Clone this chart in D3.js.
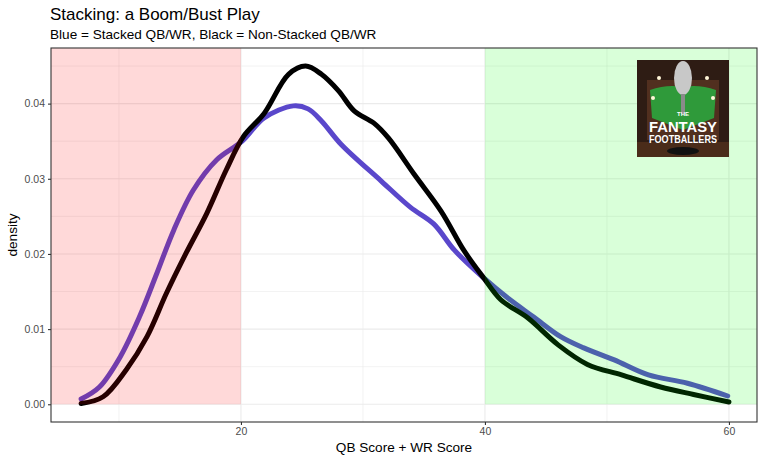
<!doctype html>
<html lang="en">
<head>
  <meta charset="UTF-8">
  <title>Stacking: a Boom/Bust Play</title>
  <script src="https://cdn.jsdelivr.net/npm/d3@7"></script>
  <style>
    body { margin: 0; background: #fff; }
    svg text { font-family: "Liberation Sans", Arial, sans-serif; }
  </style>
</head>
<body>
<div id="chart"></div>
<script>
  // density curves (x = QB score + WR score)
  var stackedX = [6.9, 8.4, 10.1, 11.7, 13.1, 14.5, 16.1, 18.0, 20.1, 21.9, 24.3, 25.5, 26.6, 28.2, 31.5, 33.9, 35.8, 37.5, 39.9, 41.9, 44.0, 46.2, 48.1, 50.6, 53.4, 56.6, 59.9];
  var stackedY = [0.0007, 0.0023, 0.0063, 0.0117, 0.0174, 0.0232, 0.0285, 0.0325, 0.0350, 0.0381, 0.0397, 0.0393, 0.0377, 0.0346, 0.0297, 0.0262, 0.0240, 0.0205, 0.0168, 0.0141, 0.0116, 0.0090, 0.0075, 0.0059, 0.0039, 0.0028, 0.0011];
  var nonStackedX = [6.9, 8.7, 10.6, 12.3, 13.9, 15.5, 17.2, 18.8, 20.2, 21.9, 23.9, 25.3, 26.6, 28.0, 29.3, 30.9, 32.1, 34.2, 36.4, 38.3, 39.9, 41.3, 43.5, 46.0, 48.4, 51.2, 54.4, 57.1, 60.0];
  var nonStackedY = [0.0001, 0.0010, 0.0046, 0.0090, 0.0148, 0.0201, 0.0254, 0.0312, 0.0356, 0.0387, 0.0439, 0.0450, 0.0439, 0.0417, 0.0390, 0.0374, 0.0354, 0.0306, 0.0257, 0.0204, 0.0168, 0.0139, 0.0115, 0.0079, 0.0053, 0.0039, 0.0023, 0.0013, 0.0003];

  var xTicks = [20, 40, 60];
  var xMinor = [10, 30, 50];
  var yTicks = [0, 0.01, 0.02, 0.03, 0.04];
  var yMinor = [0.005, 0.015, 0.025, 0.035, 0.045];
  var zones = [{from: null, to: 20, fill: "rgba(255,0,0,0.15)"},
               {from: 40, to: null, fill: "rgba(0,255,0,0.15)"}];

  var width = 768, height = 461;
  // panel edges (note: "top" is reserved on window, so prefix these)
  var pLeft = 51, pRight = 757, pTop = 48, pBottom = 422;

  var svg = d3.select("#chart").append("svg")
      .attr("width", width)
      .attr("height", height);

  var x = d3.scaleLinear().domain([4.43, 62.3]).range([pLeft, pRight]);
  var y = d3.scaleLinear().domain([-0.00236, 0.0474]).range([pBottom, pTop]);

  // grid
  var grid = svg.append("g");
  grid.selectAll(".xmin").data(xMinor).enter().append("line")
      .attr("x1", x).attr("x2", x).attr("y1", pTop).attr("y2", pBottom)
      .attr("stroke", "#ebebeb").attr("stroke-width", 0.6);
  grid.selectAll(".ymin").data(yMinor).enter().append("line")
      .attr("x1", pLeft).attr("x2", pRight).attr("y1", y).attr("y2", y)
      .attr("stroke", "#ebebeb").attr("stroke-width", 0.6);
  grid.selectAll(".xmaj").data(xTicks).enter().append("line")
      .attr("x1", x).attr("x2", x).attr("y1", pTop).attr("y2", pBottom)
      .attr("stroke", "#ebebeb").attr("stroke-width", 1.1);
  grid.selectAll(".ymaj").data(yTicks).enter().append("line")
      .attr("x1", pLeft).attr("x2", pRight).attr("y1", y).attr("y2", y)
      .attr("stroke", "#ebebeb").attr("stroke-width", 1.1);

  // the two density lines
  var line = d3.line()
      .x(function(d) { return x(d[0]); })
      .y(function(d) { return y(d[1]); })
      .curve(d3.curveCatmullRom.alpha(0.5));

  svg.append("path")
      .datum(d3.zip(stackedX, stackedY))
      .attr("d", line)
      .attr("fill", "none")
      .attr("stroke", "#5a47cb")
      .attr("stroke-width", 5)
      .attr("stroke-linecap", "round");

  svg.append("path")
      .datum(d3.zip(nonStackedX, nonStackedY))
      .attr("d", line)
      .attr("fill", "none")
      .attr("stroke", "#000")
      .attr("stroke-width", 5)
      .attr("stroke-linecap", "round");

  // boom / bust zones, drawn over the lines
  svg.selectAll(".zone").data(zones).enter().append("rect")
      .attr("x", function(d) { return d.from == null ? pLeft : x(d.from); })
      .attr("width", function(d) {
        var a = d.from == null ? pLeft : x(d.from);
        var b = d.to == null ? pRight : x(d.to);
        return b - a;
      })
      .attr("y", pTop)
      .attr("height", y(0) - pTop)
      .attr("fill", function(d) { return d.fill; });

  // panel border
  svg.append("rect")
      .attr("x", pLeft).attr("y", pTop)
      .attr("width", pRight - pLeft).attr("height", pBottom - pTop)
      .attr("fill", "none").attr("stroke", "#333").attr("stroke-width", 1.1);

  // axes
  var xAxis = svg.append("g").attr("transform", "translate(0," + pBottom + ")")
      .call(d3.axisBottom(x).tickValues(xTicks).tickSize(3).tickPadding(3));
  var yAxis = svg.append("g").attr("transform", "translate(" + pLeft + ",0)")
      .call(d3.axisLeft(y).tickValues(yTicks).tickSize(3).tickPadding(3).tickFormat(d3.format(".2f")));
  [xAxis, yAxis].forEach(function(g) {
    g.select(".domain").remove();
    g.selectAll(".tick line").attr("stroke", "#333").attr("stroke-width", 1.1);
    g.selectAll(".tick text").attr("fill", "#4d4d4d").style("font-size", "10.5px")
        .style("font-family", "'Liberation Sans', Arial, sans-serif");
  });

  // titles
  svg.append("text").attr("x", 50).attr("y", 20)
      .style("font-size", "17px").attr("fill", "#000")
      .text("Stacking: a Boom/Bust Play");
  svg.append("text").attr("x", 50).attr("y", 39)
      .style("font-size", "13.6px").attr("fill", "#000")
      .text("Blue = Stacked QB/WR, Black = Non-Stacked QB/WR");
  svg.append("text").attr("x", (pLeft + pRight) / 2).attr("y", 452)
      .attr("text-anchor", "middle").style("font-size", "13.6px")
      .text("QB Score + WR Score");
  svg.append("text")
      .attr("transform", "translate(17," + (pTop + pBottom) / 2 + ") rotate(-90)")
      .attr("text-anchor", "middle").style("font-size", "13.6px")
      .text("density");

  // logo badge in the top right
  var logo = svg.append("g").attr("transform", "translate(637,60)");
  logo.append("rect").attr("width", 92).attr("height", 97).attr("fill", "#2e1c14");
  logo.append("rect").attr("x", 10).attr("y", 20).attr("width", 72).attr("height", 60).attr("fill", "#5a3422").attr("opacity", 0.8);
  logo.append("rect").attr("y", 82).attr("width", 92).attr("height", 15).attr("fill", "#4a2c1a");
  logo.append("path")
      .attr("d", "M13,30 Q30,24 46,27 Q62,24 79,30 L77,58 L46,70 L15,58 Z")
      .attr("fill", "#2f9a3a");
  [[22, 18], [70, 18], [16, 38], [76, 38]].forEach(function(p) {
    logo.append("circle").attr("cx", p[0]).attr("cy", p[1]).attr("r", 2).attr("fill", "#fff6d8");
  });
  logo.append("ellipse").attr("cx", 46).attr("cy", 18).attr("rx", 9).attr("ry", 17).attr("fill", "#c8c8c8");
  logo.append("rect").attr("x", 44).attr("y", 34).attr("width", 4).attr("height", 20).attr("fill", "#8a8a8a");
  logo.append("ellipse").attr("cx", 46).attr("cy", 91).attr("rx", 16).attr("ry", 4).attr("fill", "#111");
  logo.append("text").attr("x", 46).attr("y", 56).attr("text-anchor", "middle")
      .style("font-size", "6px").style("font-weight", "bold").attr("fill", "#fff").text("THE");
  logo.append("text").attr("x", 46).attr("y", 72).attr("text-anchor", "middle")
      .attr("textLength", 68).attr("lengthAdjust", "spacingAndGlyphs")
      .style("font-size", "15px").style("font-weight", "bold").attr("fill", "#fff")
      .text("FANTASY");
  logo.append("text").attr("x", 46).attr("y", 83).attr("text-anchor", "middle")
      .attr("textLength", 68).attr("lengthAdjust", "spacingAndGlyphs")
      .style("font-size", "10px").style("font-weight", "bold").attr("fill", "#fff").text("FOOTBALLERS");
</script>
</body>
</html>
